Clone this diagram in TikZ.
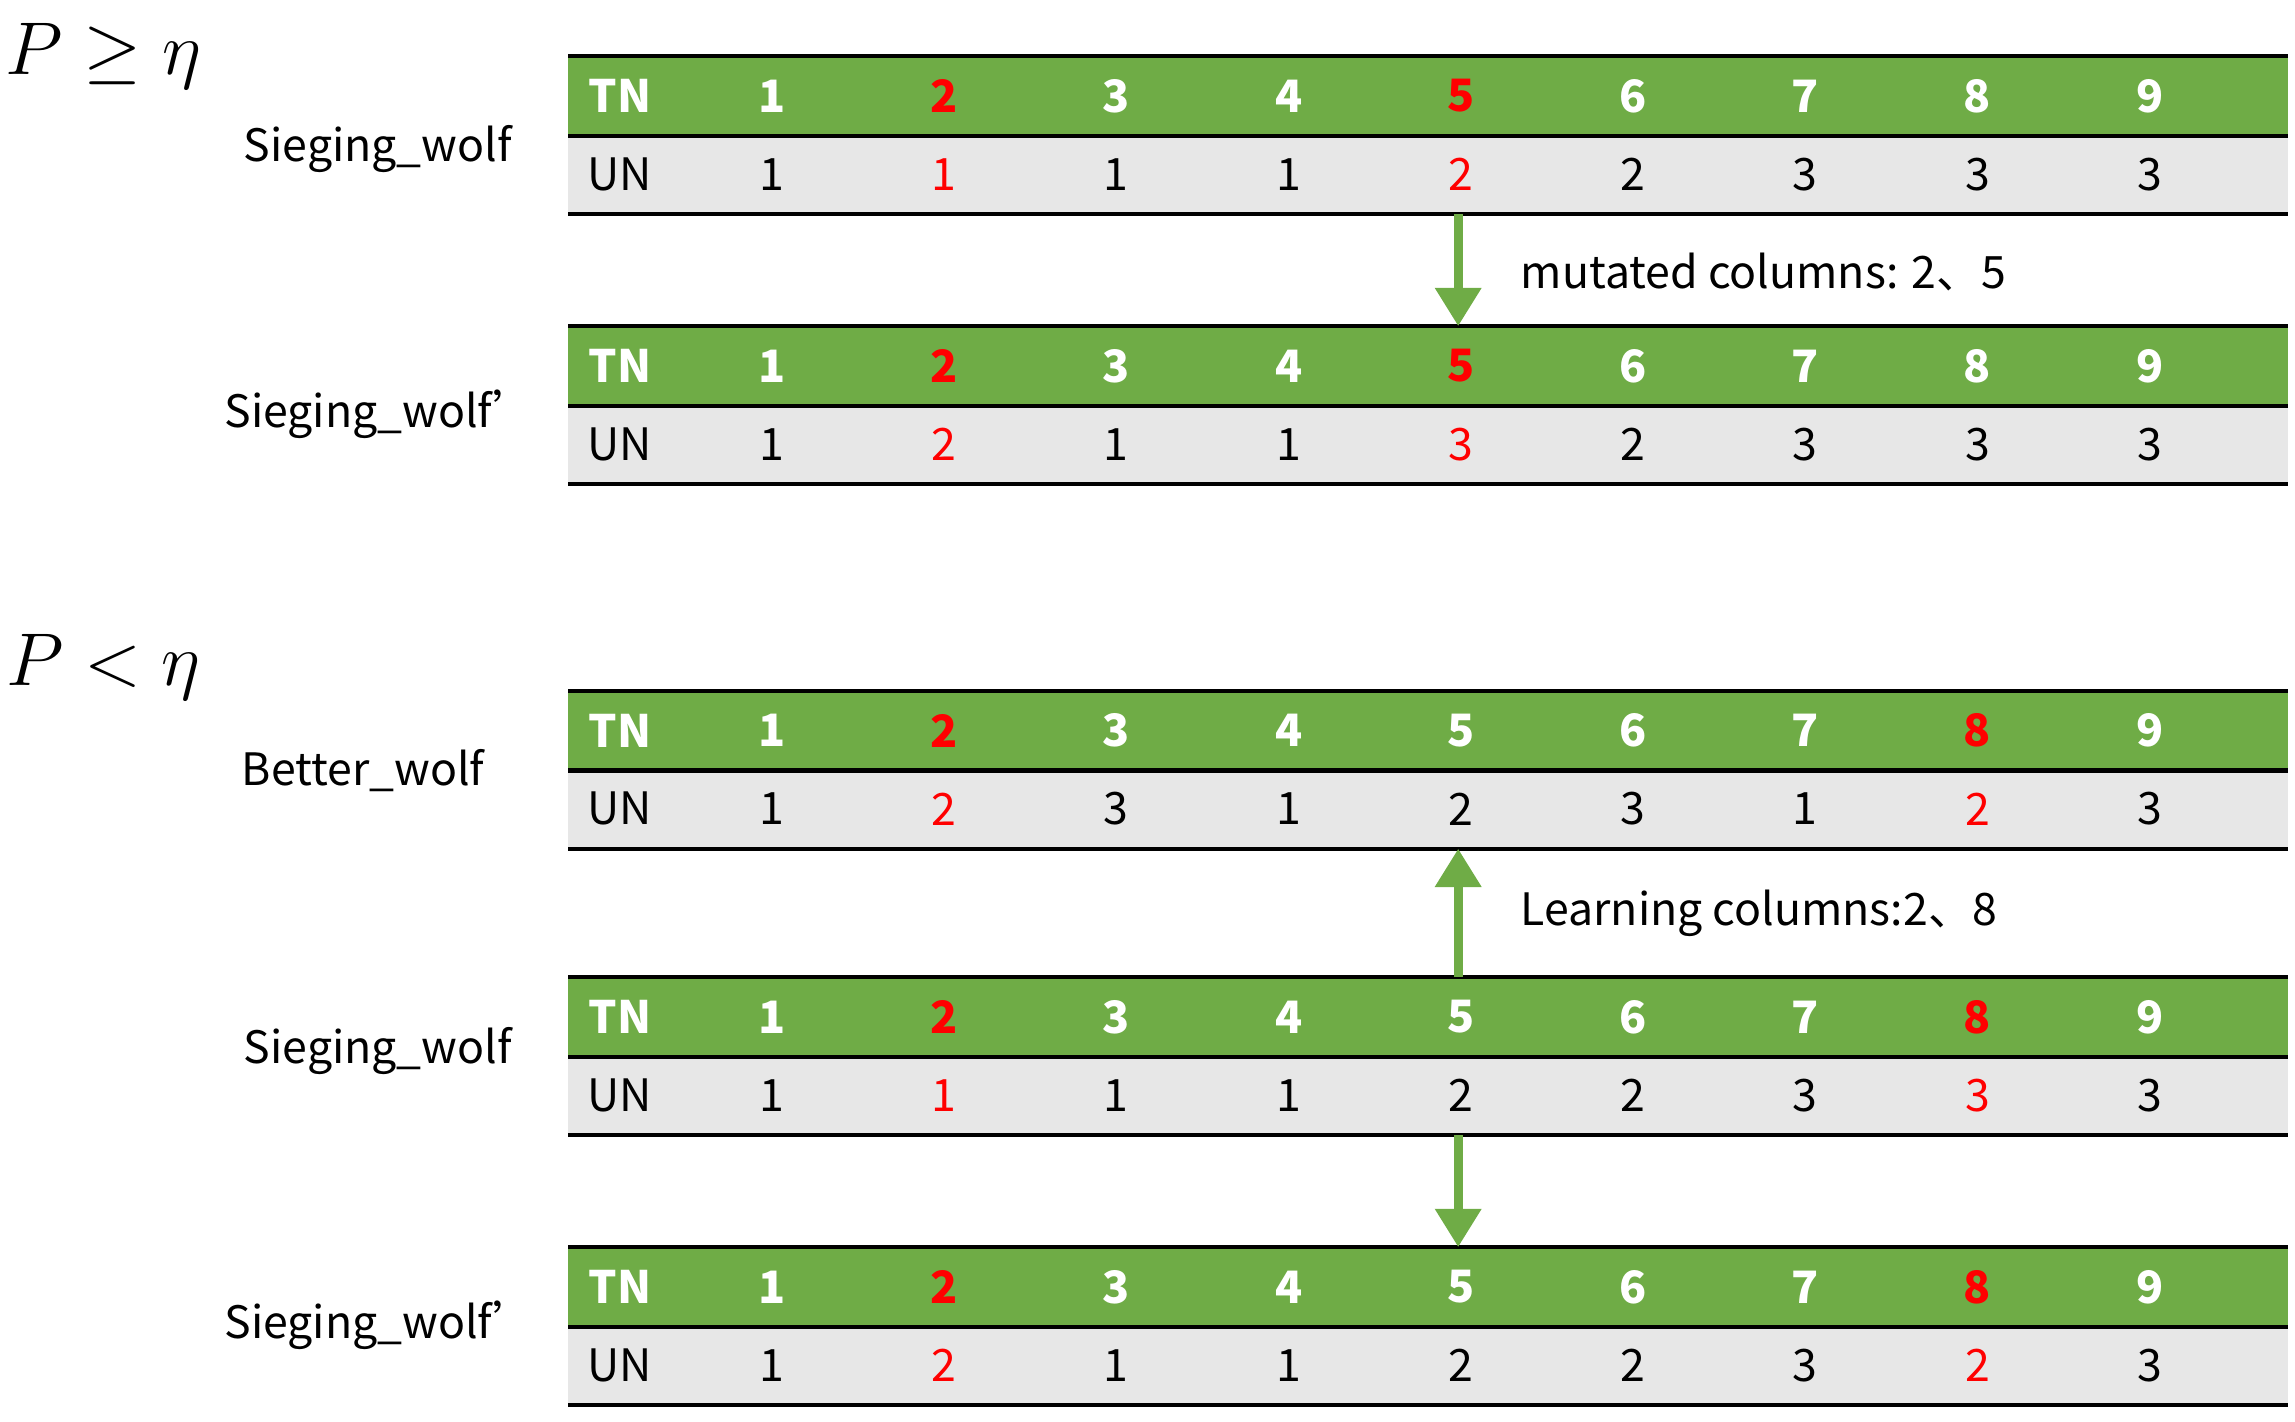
\documentclass[tikz,border=0pt]{standalone}
\usepackage{fontspec}
\setmainfont{Noto Sans CJK SC}
\usetikzlibrary{arrows.meta}
\definecolor{gr}{HTML}{6FAC46}
\definecolor{lg}{HTML}{E7E7E7}
\definecolor{rd}{HTML}{FF0000}
\tikzset{x=0.01cm,y=-0.01cm,
 cell/.style={font=\fontsize{8.6}{10}\selectfont,inner sep=0pt,anchor=center},
 hdr/.style={cell,font=\fontsize{8.6}{10}\selectfont\bfseries,text=white},
 rule/.style={line width=0.8pt},
 lab/.style={font=\fontsize{8.6}{10}\selectfont,anchor=center},
 garrow/.style={gr,line width=1.8pt,-{Triangle[width=0.3cm,length=0.26cm]}}}
\newcommand{\wtable}[5]{%
 \fill[gr] (385,#2) rectangle (1550,#2+54);
 \fill[lg] (385,#2+54) rectangle (1550,#2+107);
 \draw[rule] (385,#2)--(1550,#2) (385,#2+54)--(1550,#2+54) (385,#2+107)--(1550,#2+107);
 \coordinate (#1top) at (988,#2);
 \coordinate (#1bot) at (988,#2+107);
 \node[hdr] (#1h0) at (420,#2+27) {TN};
 \node[cell] (#1u0) at (420,#2+80) {UN};
 \foreach \v [count=\i] in {#5}{%
  \pgfmathsetmacro{\xx}{523+116.7*(\i-1)}
  \ifnum\i=#3 \def\cc{rd}\else\ifnum\i=#4 \def\cc{rd}\else\def\cc{black}\fi\fi
  \ifnum\i=#3 \def\hc{rd}\else\ifnum\i=#4 \def\hc{rd}\else\def\hc{white}\fi\fi
  \node[hdr,text=\hc] (#1h\i) at (\xx,#2+27) {\i};
  \node[cell,text=\cc] (#1u\i) at (\xx,#2+80) {\v};
 }}
\begin{document}
\begin{tikzpicture}
\useasboundingbox (0,0) rectangle (1555,963);
\node[anchor=center,font=\fontsize{15}{17}\selectfont] (c1) at (70,38) {$P\geq\eta$};
\node[anchor=center,font=\fontsize{15}{17}\selectfont] (c2) at (70,452) {$P<\eta$};
\wtable{a}{38}{2}{5}{1,1,1,1,2,2,3,3,3}
\wtable{b}{221}{2}{5}{1,2,1,1,3,2,3,3,3}
\wtable{c}{468}{2}{8}{1,2,3,1,2,3,1,2,3}
\wtable{d}{662}{2}{8}{1,1,1,1,2,2,3,3,3}
\wtable{e}{845}{2}{8}{1,2,1,1,2,2,3,2,3}
\node[lab] (la) at (256,101) {Sieging\_wolf};
\node[lab] (lb) at (258,281) {Sieging\_wolf'};
\node[lab] (lc) at (246,522) {Better\_wolf};
\node[lab] (ld) at (256,712) {Sieging\_wolf};
\node[lab] (le) at (258,898) {Sieging\_wolf'};
\draw[garrow] (abot)--(btop);
\draw[garrow] (dtop)--(cbot);
\draw[garrow] (dbot)--(etop);
\node[lab,anchor=west] (m1) at (1018,184) {mutated columns: 2、5};
\node[lab,anchor=west] (m2) at (1018,619) {Learning columns:2、8};
\end{tikzpicture}
\end{document}
